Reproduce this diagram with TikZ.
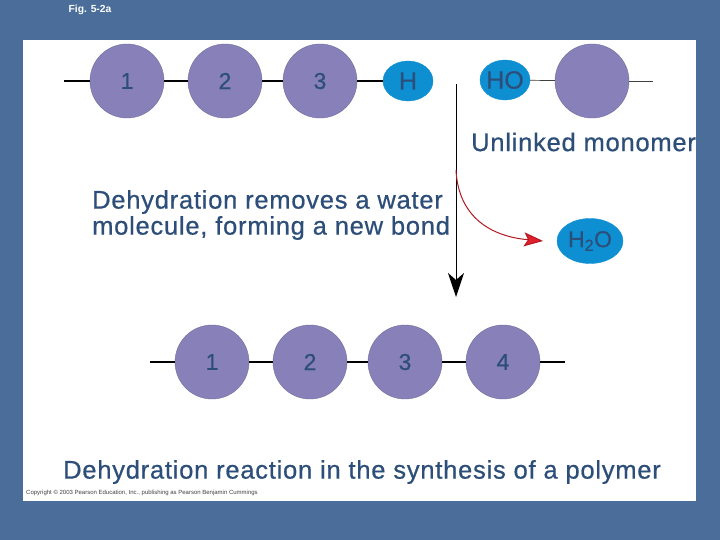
\documentclass[tikz,border=0pt]{standalone}
\usepackage{fontspec}
\setmainfont{Liberation Sans}
\newfontfamily\legendfont[LetterSpace=3,FakeBold=0.6]{Liberation Sans}
\newfontfamily\partfont[FakeBold=0.5]{Liberation Sans}
\usetikzlibrary{arrows.meta,positioning,shapes}
\definecolor{slide}{HTML}{4A6E99}
\definecolor{inktext}{HTML}{2C4E78}
\definecolor{monomer}{HTML}{8780B9}
\definecolor{water}{HTML}{0E8FD2}
\definecolor{redarrow}{HTML}{E0202C}

\begin{document}
\begin{tikzpicture} [x=1pt, y=-1pt, node distance = 98pt]
            \tikzstyle{unit}=[circle, draw=monomer!85!black, fill=monomer, minimum size=74pt, inner sep=0pt, text=inktext, font=\partfont\fontsize{23}{23}\selectfont]
            \tikzstyle{endgroup}=[ellipse, fill=water, draw=water, minimum width=50pt, minimum height=40pt, inner sep=0pt, inner xsep=-3pt, text=inktext, font=\partfont\fontsize{25}{25}\selectfont]
            \tikzstyle{legend}=[text=inktext, font=\legendfont\fontsize{25.5}{26}\selectfont, inner sep=0pt]
            \tikzstyle{bond}=[draw=black, line width=1.2pt]

            \useasboundingbox (0,0) rectangle (720,540);
            \fill[slide] (0,0) rectangle (720,540);
            \fill[white] (23,40) rectangle (696,501);

            \node[font=\fontsize{10.3}{10}\selectfont\bfseries, text=white, inner sep=0pt] (fig) at (90,10) {Fig. 5-2a};

            % top row
            \coordinate (topstart) at (64,81);
            \node[unit]     (a1)    at (127,81)                             {1};
            \node[unit]     (a2)    [right of=a1]                           {2};
            \node[unit]     (a3)    [right of=a2, node distance=95pt]       {\raisebox{-2pt}{3}};
            \node[endgroup] (h)     [right of=a3, node distance=88pt]       {H};
            \node[endgroup] (ho)    at (505,80)                             {HO};
            \node[unit]     (a4)    at (592,81)                             {};
            \coordinate (topend) at (653,81);

            \path   (topstart)  edge[bond]  (a1);
            \path   (a1)        edge[bond]  (a2);
            \path   (a2)        edge[bond]  (a3);
            \path   (a3)        edge[bond]  (h);
            \path   (ho)        edge[bond, line width=.7pt, draw=black!75]  (a4);
            \path   (a4)        edge[bond, line width=.7pt, draw=black!75]  (topend);

            \node[legend, anchor=west] (unlinked) at (471,142) {Unlinked monomer};
            \node[legend, anchor=west, align=left] (removes) at (92,215) {Dehydration removes a water\\molecule, forming a new bond};

            % reaction arrows
            \coordinate (down) at (456,84);
            \coordinate (downend) at (456,297);
            \coordinate (branch) at (456,170);
            \node[endgroup, minimum width=66pt, minimum height=45pt, font=\partfont\fontsize{23}{23}\selectfont] (water) at (590,241) {H\textsubscript{2}O};
            \coordinate (redend) at (543,241);
            \draw[line width=1pt, -{Stealth[length=24pt,width=16pt,inset=7pt]}] (down) -- (downend);
            \draw[redarrow!80!black, line width=1pt, -{Stealth[length=19pt,width=14pt,inset=4pt,fill=redarrow]}] (branch) .. controls (458,212) and (485,236) .. (redend);

            % bottom row
            \coordinate (botstart) at (150,362);
            \node[unit]     (b1)    at (212,362)                            {1};
            \node[unit]     (b2)    [right of=b1]                           {2};
            \node[unit]     (b3)    [right of=b2, node distance=95pt]       {\raisebox{-2pt}{3}};
            \node[unit]     (b4)    [right of=b3]                           {4};
            \coordinate (botend) at (565,362);

            \path   (botstart)  edge[bond]  (b1);
            \path   (b1)        edge[bond]  (b2);
            \path   (b2)        edge[bond]  (b3);
            \path   (b3)        edge[bond]  (b4);
            \path   (b4)        edge[bond]  (botend);

            \node[legend, anchor=west, font=\legendfont\fontsize{25.5}{26}\selectfont] (caption) at (63,472) {Dehydration reaction in the synthesis of a polymer};
            \node[font=\fontsize{6}{6}\selectfont, text=black!75, anchor=west, inner sep=0pt] (copy) at (26,493) {Copyright © 2003 Pearson Education, Inc., publishing as Pearson Benjamin Cummings};
        \end{tikzpicture}
\end{document}
